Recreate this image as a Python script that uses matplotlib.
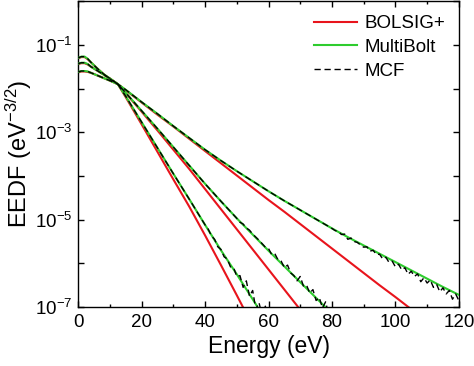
import numpy as np
import matplotlib
matplotlib.use("Agg")
import matplotlib.pyplot as plt
from matplotlib.ticker import NullLocator

plt.rcParams['font.family'] = ['Liberation Sans', 'DejaVu Sans']
plt.rcParams['mathtext.fontset'] = 'custom'
plt.rcParams['mathtext.rm'] = 'Liberation Sans'
plt.rcParams['mathtext.it'] = 'Liberation Sans:italic'
plt.rcParams['mathtext.bf'] = 'Liberation Sans:bold'

# Energy grid (eV) shared by the solver curves
energy = [0, 1, 2, 3, 4, 6, 8, 10, 12.5, 15, 20, 25, 30, 35, 40, 45, 50, 55,
          60, 65, 70, 75, 80, 85, 90, 95, 100, 105, 110, 115, 120]

# log10 of EEDF, three cases (steep, middle, shallow)
bolsig_a = [-1.31, -1.28, -1.28, -1.33, -1.40, -1.54, -1.67, -1.78, -1.90, -2.20,
            -2.82, -3.45, -4.08, -4.70, -5.36, -6.04, -6.73, -7.43]
bolsig_b = [-1.44, -1.42, -1.42, -1.45, -1.50, -1.59, -1.68, -1.77, -1.90, -2.11,
            -2.53, -2.96, -3.40, -3.84, -4.30, -4.76, -5.22, -5.68, -6.14, -6.60,
            -7.06, -7.52]
bolsig_c = [-1.63, -1.61, -1.61, -1.62, -1.64, -1.70, -1.76, -1.82, -1.90, -2.04,
            -2.32, -2.60, -2.87, -3.15, -3.43, -3.71, -3.99, -4.27, -4.55, -4.82,
            -5.10, -5.38, -5.66, -5.94, -6.22, -6.50, -6.77, -7.05, -7.33]

multibolt_a = [-1.30, -1.27, -1.27, -1.32, -1.40, -1.54, -1.67, -1.78, -1.90, -2.18,
               -2.77, -3.36, -3.95, -4.53, -5.12, -5.70, -6.25, -6.82, -7.40]
multibolt_b = [-1.43, -1.41, -1.41, -1.44, -1.50, -1.59, -1.68, -1.77, -1.90, -2.10,
               -2.51, -2.92, -3.34, -3.76, -4.18, -4.58, -4.97, -5.34, -5.71, -6.07,
               -6.43, -6.79, -7.15]
multibolt_c = [-1.62, -1.60, -1.60, -1.61, -1.64, -1.70, -1.76, -1.82, -1.90, -2.03,
               -2.31, -2.58, -2.86, -3.13, -3.40, -3.65, -3.89, -4.12, -4.35, -4.57,
               -4.78, -4.99, -5.20, -5.40, -5.59, -5.78, -5.97, -6.16, -6.35, -6.54,
               -6.72]

# MCF (Monte Carlo) - noisy tails
mcf_e_a = [0, 1, 2, 3, 4, 6, 8, 10, 12.5, 15, 20, 25, 30, 35, 40,
           41, 42, 43, 44, 45, 46, 47, 48, 49, 50, 51, 52, 53, 54, 55, 56, 57, 58, 59, 60]
mcf_a = [-1.30, -1.27, -1.27, -1.32, -1.40, -1.54, -1.67, -1.78, -1.90, -2.18,
         -2.77, -3.36, -3.95, -4.53, -5.12,
         -5.22, -5.37, -5.45, -5.62, -5.68, -5.85, -5.90, -6.08, -6.10, -6.30,
         -6.28, -6.55, -6.40, -6.75, -6.62, -7.05, -6.90, -7.20, -6.98, -7.40]

mcf_e_b = [0, 1, 2, 3, 4, 6, 8, 10, 12.5, 15, 20, 25, 30, 35, 40, 45, 50,
           51, 52, 53, 54, 55, 56, 57, 58, 59, 60, 61, 62, 63, 64, 65, 66, 67, 68,
           69, 70, 71, 72, 73, 74, 75, 76, 77, 78, 79, 80, 81]
mcf_b = [-1.43, -1.41, -1.41, -1.44, -1.50, -1.59, -1.68, -1.77, -1.90, -2.10,
         -2.51, -2.92, -3.34, -3.76, -4.18, -4.58, -4.97,
         -5.06, -5.10, -5.19, -5.24, -5.33, -5.40, -5.47, -5.55, -5.63, -5.66,
         -5.80, -5.78, -5.92, -5.95, -6.10, -6.04, -6.22, -6.28, -6.40, -6.30,
         -6.52, -6.50, -6.68, -6.60, -6.85, -6.78, -7.02, -6.88, -7.18, -6.98, -7.40]

mcf_e_c = [0, 1, 2, 3, 4, 6, 8, 10, 12.5, 15, 20, 25, 30, 35, 40, 45, 50, 55,
           60, 65, 70, 75, 80,
           81, 82, 83, 84, 85, 86, 87, 88, 89, 90, 91, 92, 93, 94, 95, 96, 97, 98,
           99, 100, 101, 102, 103, 104, 105, 106, 107, 108, 109, 110, 111, 112,
           113, 114, 115, 116, 117, 118, 119, 120]
mcf_c = [-1.62, -1.60, -1.60, -1.61, -1.64, -1.70, -1.76, -1.82, -1.90, -2.03,
         -2.31, -2.58, -2.86, -3.13, -3.40, -3.65, -3.89, -4.12, -4.35, -4.57,
         -4.78, -4.99, -5.20,
         -5.25, -5.27, -5.34, -5.33, -5.45, -5.42, -5.50, -5.52, -5.58, -5.63,
         -5.62, -5.72, -5.70, -5.80, -5.79, -5.90, -5.86, -5.98, -5.95, -6.08,
         -6.02, -6.15, -6.10, -6.25, -6.18, -6.30, -6.24, -6.42, -6.33, -6.45,
         -6.38, -6.55, -6.48, -6.65, -6.56, -6.70, -6.62, -6.82, -6.70, -6.85]

red = '#e8141c'
green = '#2ecc2e'

fig = plt.figure(figsize=(4.74, 3.66), dpi=100)
ax = fig.add_axes([0.165, 0.161, 0.803, 0.836])

for i, vals in enumerate([bolsig_a, bolsig_b, bolsig_c]):
    ax.plot(energy[:len(vals)], 10.0 ** np.array(vals), color=red, lw=1.5,
            label='BOLSIG+' if i == 0 else None, zorder=2)
for i, vals in enumerate([multibolt_a, multibolt_b, multibolt_c]):
    ax.plot(energy[:len(vals)], 10.0 ** np.array(vals), color=green, lw=1.5,
            label='MultiBolt' if i == 0 else None, zorder=3)
for i, (e, vals) in enumerate([(mcf_e_a, mcf_a), (mcf_e_b, mcf_b), (mcf_e_c, mcf_c)]):
    ax.plot(e, 10.0 ** np.array(vals), color='black', lw=1.0,
            linestyle=(0, (4.5, 2.7)), label='MCF' if i == 0 else None, zorder=4)

ax.set_yscale('log')
ax.set_xlim(0, 120)
ax.set_ylim(1e-7, 1)

ax.set_xticks([0, 20, 40, 60, 80, 100, 120])
ax.set_xticks([10, 30, 50, 70, 90, 110], minor=True)
ax.set_yticks([1e-7, 1e-6, 1e-5, 1e-4, 1e-3, 1e-2, 1e-1, 1],
              ['$\\mathdefault{10^{-7}}$', '', '$\\mathdefault{10^{-5}}$', '',
               '$\\mathdefault{10^{-3}}$', '', '$\\mathdefault{10^{-1}}$', ''])
ax.yaxis.set_minor_locator(NullLocator())

ax.tick_params(which='both', direction='in', top=True, right=True, labelsize=13.5,
               width=1.0)
ax.tick_params(which='major', length=4.5)
ax.tick_params(which='minor', length=2.5)
ax.tick_params(axis='x', pad=5)
ax.tick_params(axis='y', pad=4)
for s in ax.spines.values():
    s.set_linewidth(1.0)

ax.set_xlabel('Energy (eV)', fontsize=16.5, labelpad=3)
ax.set_ylabel('EEDF (eV$^{-3/2}$)', fontsize=17, labelpad=1)

ax.legend(loc='upper right', frameon=False, fontsize=13.5, handlelength=2.3,
          handletextpad=0.35, labelspacing=0.35, borderaxespad=0.35)

fig.savefig('out.png', dpi=100)
